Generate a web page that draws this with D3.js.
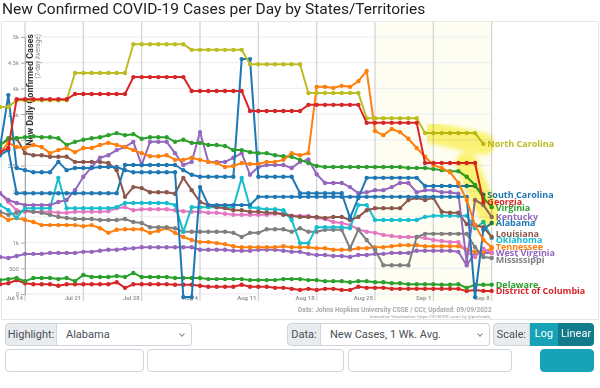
<!DOCTYPE html>
<html>
<head>
<meta charset="utf-8">
<script src="https://cdn.jsdelivr.net/npm/d3@7"></script>
<style>
  html, body { margin: 0; padding: 0; background: #fff; }
  body { width: 600px; height: 388px; overflow: hidden; position: relative;
         font-family: Roboto, "Helvetica Neue", Arial, sans-serif; }
  #title { position: absolute; left: 2px; top: 0px; font-size: 15.5px; color: #222; white-space: nowrap; }
  #panel { position: absolute; left: 1px; top: 21px; width: 596px; height: 297px;
           border: 1px solid #e6e6e6; background: #fff; }
  #chart { position: absolute; left: 0; top: 0; }
  .axis text { font-size: 6px; fill: #888; font-family: Roboto, Arial, sans-serif; }
  .axis .domain { stroke: #aaa; }
  .axis line { stroke: #aaa; }
  .end-label { font-size: 9px; font-weight: bold; font-family: "Open Sans", Arial, sans-serif; }
  .grp { position: absolute; display: flex; height: 23px; font-size: 11px; color: #495057; box-sizing: border-box; }
  .grp > div { box-sizing: border-box; height: 23px; line-height: 21px; white-space: nowrap; }
  .lab { background: #e9ecef; border: 1px solid #ced4da; border-radius: 4px 0 0 4px; text-align: center; }
  .sel { background: #fff; border: 1px solid #ced4da; border-left: none; border-radius: 0 4px 4px 0;
         padding: 0 0 0 9px; position: relative; }
  .sel::after { content: ""; position: absolute; right: 7px; top: 8px; width: 3px; height: 3px;
                border-right: 1px solid #888; border-bottom: 1px solid #888; transform: rotate(45deg); }
  .btn { color: #fff; text-align: center; }
  .row2 { position: absolute; top: 349px; height: 23px; border: 1px solid #ced4da; border-radius: 4px;
          background: #fff; box-sizing: border-box; }
</style>
</head>
<body>
<div id="title">New Confirmed COVID-19 Cases per Day by States/Territories</div>
<div id="panel"></div>
<svg id="chart" width="600" height="388"></svg>

<div class="grp" style="left:5px; top:323px;">
  <div class="lab" style="width:52px;">Highlight:</div><div class="sel" style="width:135px;">Alabama</div>
</div>
<div class="grp" style="left:287px; top:323px;">
  <div class="lab" style="width:34px;">Data:</div><div class="sel" style="width:169px;">New Cases, 1 Wk. Avg.</div>
</div>
<div class="grp" style="left:493px; top:323px;">
  <div class="lab" style="width:37px;">Scale:</div>
  <div class="btn" style="width:28px; background:#17a2b8;">Log</div>
  <div class="btn" style="width:36px; background:#117a8b; border-radius:0 4px 4px 0;">Linear</div>
</div>
<div class="row2" style="left:5px; width:139px;"></div>
<div class="row2" style="left:147px; width:197px;"></div>
<div class="row2" style="left:348px; width:164px;"></div>
<div class="row2" style="left:540px; width:54px; background:#17a2b8; border-color:#17a2b8;"></div>

<script>
// ---- data: 7-day average new cases, one value per day from Jul 11 to Sep 8, 2022 ----
const START = new Date(2022, 6, 11);
const DATES = d3.range(60).map(i => d3.timeDay.offset(START, i));

const X_TICKS = ["2022-07-14", "2022-07-21", "2022-07-28", "2022-08-04", "2022-08-11",
                 "2022-08-18", "2022-08-25", "2022-09-01", "2022-09-08"].map(d3.timeParse("%Y-%m-%d"));
const Y_TICKS = [0, 500, 1000, 1500, 2000, 2500, 3000, 3500, 4000, 4500, 5000];

const NORTH_CAROLINA = [3640, 3640, 3770, 3770, 3770, 3770, 3770, 3770, 3770, 4300,
  4300, 4300, 4300, 4300, 4300, 4300, 4860, 4860, 4860, 4860,
  4860, 4860, 4860, 4750, 4750, 4750, 4750, 4750, 4750, 4750,
  4470, 4470, 4470, 4470, 4470, 4470, 4470, 3910, 3910, 3910,
  3910, 3910, 3910, 3910, 3420, 3420, 3420, 3420, 3420, 3420,
  3420, 3130, 3130, 3130, 3130, 3130, 3130, 3130, 2920, null];

const GEORGIA = [2760, 2840, 3790, 3790, 3790, 3790, 3790, 3790, 3790, 3890,
  3890, 3890, 3890, 3890, 3890, 3890, 4220, 4220, 4220, 4220,
  4220, 4220, 4220, 3950, 3950, 3950, 3950, 3950, 3950, 3950,
  3560, 3560, 3560, 3560, 3560, 3560, 3560, 3680, 3680, 3680,
  3680, 3680, 3680, 3680, 3330, 3330, 3330, 3330, 3330, 3330,
  3330, 2550, 2550, 2550, 2550, 2550, 2550, 2550, 1790, null];

const TENNESSEE = [2760, 2940, 2860, 2840, 2900, 2860, 2740, 2800, 2840, 2760,
  2840, 2840, 2900, 2940, 2900, 2860, 2800, 2740, 2680, 2680,
  2700, 2610, 2610, 2650, 2610, 2570, 2550, 2470, 2490, 2550,
  2530, 2530, 2570, 2570, 2610, 2740, 2700, 2740, 4030, 4030,
  4010, 4050, 4030, 4140, 4340, 3170, 3090, 3210, 3150, 3020,
  2840, 2670, 2510, 2450, 2370, 2160, 1830, 1340, 1050, 910];

const ORANGE_LOW = [1540, 1440, 1480, 1440, 1400, 1340, 1340, 1340, 1340, 1340,
  1320, 1340, 1280, 1190, 1250, 1260, 1260, 1260, 1190, 1230,
  1280, 1190, 1110, 1050, 1010, 1010, 990, 970, 930, 910,
  910, 910, 910, 910, 930, 910, 910, 910, 890, 890,
  860, 860, 860, 890, 890, 910, 910, 930, 950, 950,
  950, 930, 930, 930, 930, 930, 860, 820, 820, 880];

const VIRGINIA = [2900, 3030, 3030, 3050, 3070, 3050, 3050, 3030, 2900, 2960,
  3000, 3030, 3050, 3090, 3130, 3090, 3110, 3020, 3050, 3050,
  3050, 2960, 3000, 2940, 2940, 2900, 2900, 2880, 2800, 2800,
  2760, 2740, 2740, 2700, 2680, 2670, 2610, 2550, 2490, 2470,
  2470, 2470, 2470, 2470, 2470, 2470, 2470, 2470, 2470, 2450,
  2450, 2450, 2430, 2410, 2390, 2390, 2280, 2120, 1870, 1690];

const DELAWARE = [270, 290, 310, 250, 310, 310, 310, 290, 310, 250,
  370, 330, 330, 330, 350, 330, 410, 330, 330, 330,
  330, 310, 310, 310, 310, 290, 290, 290, 290, 290,
  270, 270, 270, 270, 290, 290, 290, 270, 270, 250,
  250, 250, 230, 250, 250, 230, 230, 210, 210, 190,
  190, 190, 190, 180, 180, 190, 120, 180, 180, 180];

const DISTRICT_OF_COLUMBIA = [190, 210, 270, 210, 190, 190, 190, 160, 190, 190,
  190, 190, 190, 190, 230, 120, 190, 190, 190, 190,
  190, 180, 180, 180, 160, 140, 140, 140, 140, 180,
  140, 140, 140, 120, 120, 100, 80, 100, 80, 100,
  100, 80, 80, 140, 120, 120, 120, 100, 100, 100,
  100, 100, 100, 100, 100, 100, 60, 80, 60, 60];

const KENTUCKY = [1960, 1830, 1770, 1730, 1730, 1730, 1730, 1790, 1830, 2020,
  2280, 2470, 2650, 2700, 2800, 2860, 2960, 2510, 2960, 2960,
  2960, 2740, 2510, 2570, 3150, 2570, 2570, 2570, 2650, 2740,
  2320, 2470, 2510, 2510, 2510, 2450, 2570, 2620, 2330, 2160,
  2160, 2160, 2080, 1960, 1980, 2020, 2020, 2080, 2160, 2160,
  1980, 2020, 2020, 1980, 1980, 1950, 620, 1830, 1730, 1500];

const WEST_VIRGINIA = [720, 700, 740, 780, 780, 780, 800, 800, 800, 800,
  820, 820, 840, 860, 860, 880, 890, 910, 910, 910,
  910, 910, 910, 910, 860, 860, 860, 860, 840, 840,
  840, 860, 860, 860, 840, 820, 820, 780, 760, 760,
  740, 740, 720, 760, 760, 780, 780, 800, 800, 800,
  840, 840, 840, 840, 840, 820, 560, 800, 800, 800];

const PINK_SERIES = [1960, 1790, 1630, 1600, 1600, 1600, 1600, 1580, 1580, 1600,
  1600, 1600, 1600, 1610, 1670, 1690, 1630, 1650, 1650, 1650,
  1650, 1630, 1610, 1600, 1600, 1580, 1580, 1560, 1540, 1540,
  1540, 1540, 1540, 1560, 1580, 1520, 1520, 1520, 1480, 1460,
  1400, 1380, 1340, 1260, 1210, 1190, 1150, 1130, 1110, 1110,
  1110, 1090, 1050, 1030, 1010, 1010, 820, 720, 880, 800];

const MISSISSIPPI = [1600, 1540, 1580, 1630, 1600, 1580, 1540, 1500, 1480, 1460,
  1460, 1460, 1440, 1440, 1440, 1460, 1400, 1380, 1300, 1300,
  1300, 1280, 1210, 1210, 1210, 1210, 1210, 1210, 1190, 1110,
  1190, 1190, 1260, 1260, 1260, 1210, 1280, 1210, 1210, 1250,
  1250, 1250, 890, 1250, 1050, 860, 560, 560, 560, 560,
  1110, 1170, 1170, 1170, 1170, 1170, 1170, 910, 720, 700];

const OKLAHOMA = [1730, 1630, 1480, 1670, 1670, 1670, 1670, 2260, 1670, 1670,
  1670, 1670, 1670, 1670, 1690, 1770, 1770, 1770, 1770, 1770,
  1770, 1730, 1210, 1690, 1690, 1690, 1690, 1690, 1690, 2260,
  1690, 1670, 1650, 1650, 1630, 1440, 990, 990, 1300, 1300,
  1300, 1300, 1280, 1730, 1730, 1440, 1440, 1440, 1440, 1440,
  1440, 1500, 1520, 1520, 1520, 1520, 1520, 1280, 1400, 1090];

const LOUISIANA = [2900, 3000, 3030, 2740, 2700, 2700, 2670, 2670, 2670, 2570,
  2570, 2570, 2570, 2550, 2410, 1890, 2080, 2060, 1980, 1980,
  1980, 1950, 2260, 2020, 1790, 1730, 1690, 1670, 1630, 1630,
  1600, 1600, 1580, 1580, 1540, 1520, 1500, 1500, 1500, 1480,
  1500, 1500, 1440, 1500, 1630, 1670, 1670, 1670, 1670, 1830,
  1870, 1830, 1870, 1600, 1580, 1580, 1360, 1340, 1300, 1110];

const SOUTH_CAROLINA = [2700, 2800, 1960, 1960, 1960, 1960, 1960, 1960, 1960, 1960,
  1960, 1960, 1960, 1960, 1960, 2510, 2510, 2510, 2510, 2510,
  2510, 2510, 2410, 2320, 2280, 2280, 2280, 2280, 2280, 4570,
  4570, 2280, 2280, 2280, 2280, 2280, 1960, 1960, 1960, 1960,
  1960, 1960, 1480, 1870, 2260, 2260, 2260, 2260, 2260, 2260,
  2260, 2100, 2100, 2100, 2100, 2100, 2100, 2100, 1930, null];

const ALABAMA = [2840, 3870, 2450, 2410, 2370, 2370, 2370, 2570, 2410, 2450,
  2450, 2450, 2470, 2470, 2470, 2410, 2370, 2370, 2370, 2370,
  2370, 2370, -60, -60, 2080, 1730, 1730, 1730, 1730, 1730,
  1730, 1890, 1890, 1890, 1890, 1890, 1890, 1890, 1890, 1890,
  1890, 1890, 1890, 1890, 1890, 1890, 1890, 1890, 1890, 1890,
  1890, 1890, 1890, 1890, 1890, 1890, 1890, -60, 1250, 1380];

// draw order: first entry at the bottom
const SERIES = [
  { name: "District of Columbia", color: "#d62728", values: DISTRICT_OF_COLUMBIA, label: true },
  { name: "Delaware",             color: "#2ca02c", values: DELAWARE,             label: true },
  { name: "West Virginia",        color: "#9467bd", values: WEST_VIRGINIA,        label: true },
  { name: "",                     color: "#ff7f0e", values: ORANGE_LOW,           label: false },
  { name: "",                     color: "#e377c2", values: PINK_SERIES,          label: false },
  { name: "Mississippi",          color: "#7f7f7f", values: MISSISSIPPI,          label: true },
  { name: "Oklahoma",             color: "#17becf", values: OKLAHOMA,             label: true },
  { name: "Louisiana",            color: "#8c564b", values: LOUISIANA,            label: true },
  { name: "Kentucky",             color: "#9467bd", values: KENTUCKY,             label: true },
  { name: "Alabama",              color: "#1f77b4", values: ALABAMA,              label: true },
  { name: "South Carolina",       color: "#1f77b4", values: SOUTH_CAROLINA,       label: true },
  { name: "Virginia",             color: "#2ca02c", values: VIRGINIA,             label: true },
  { name: "Tennessee",            color: "#ff7f0e", values: TENNESSEE,            label: true },
  { name: "North Carolina",       color: "#bcbd22", values: NORTH_CAROLINA,       label: true },
  { name: "Georgia",              color: "#d62728", values: GEORGIA,              label: true },
];

// hand-drawn highlighter strokes, anchored on data points: [series, day index]
const HIGHLIGHTS = [
  [["North Carolina", 52], ["North Carolina", 58]],
  [["Georgia", 56], ["Georgia", 58], ["Kentucky", 59]],
];
const SHADED_FROM = new Date(2022, 7, 25);

const SOURCE = "Data: Johns Hopkins University CSSE / CCI; Updated: 09/09/2022";
const CREDIT = "Interactive Visualization: https://91-DIVOC.com/ by @profwade_";

// ---- chart ----
const svg = d3.select("#chart");
const x = d3.scaleTime().domain([DATES[0], DATES[DATES.length - 1]]).range([0, 491.7]);
const y = d3.scaleLinear().domain([0, 5000]).range([294, 37]);
const PLOT_TOP = 22, PLOT_BOTTOM = 301;

const defs = svg.append("defs");
defs.append("filter").attr("id", "soft")
  .append("feGaussianBlur").attr("stdDeviation", 2.2);

// shaded recent-weeks band
svg.append("rect")
  .attr("x", x(SHADED_FROM)).attr("y", PLOT_TOP)
  .attr("width", x(DATES[DATES.length - 1]) - x(SHADED_FROM)).attr("height", PLOT_BOTTOM - PLOT_TOP)
  .attr("fill", "#fdfdf2");

// horizontal grid
svg.append("g").selectAll("line").data(Y_TICKS).join("line")
  .attr("x1", x(X_TICKS[0])).attr("x2", x(X_TICKS[X_TICKS.length - 1]))
  .attr("y1", d => y(d)).attr("y2", d => y(d))
  .attr("stroke", "#ececf2").attr("stroke-width", 1);

// vertical grid (weekly)
svg.append("g").selectAll("line").data(X_TICKS).join("line")
  .attr("x1", d => x(d)).attr("x2", d => x(d))
  .attr("y1", PLOT_TOP).attr("y2", PLOT_BOTTOM)
  .attr("stroke", "#d2d2d6").attr("stroke-width", 1.2);

// y axis
const fmtY = v => v === 0 ? "0" : v < 1000 ? String(v) : (v / 1000) + "k";
svg.append("g").attr("class", "axis")
  .attr("transform", `translate(${x(X_TICKS[0])},0)`)
  .call(d3.axisLeft(y).tickValues(Y_TICKS).tickFormat(fmtY).tickSize(4).tickPadding(2));

// x axis labels (sit just left of each weekly line)
svg.append("g").attr("class", "axis").selectAll("text").data(X_TICKS).join("text")
  .attr("x", d => x(d) - 2).attr("y", 300)
  .attr("text-anchor", "end").style("font-weight", "bold").style("fill", "#9a9a9a")
  .text(d3.timeFormat("%b %-d"));

// y axis title
const yt = svg.append("text").attr("transform", `translate(32.5,34) rotate(-90)`)
  .attr("text-anchor", "end");
yt.append("tspan").attr("x", 0).attr("y", 0)
  .style("font-size", "9px").style("font-weight", "bold").style("fill", "#333")
  .text("New Daily Confirmed Cases");
yt.append("tspan").attr("x", 0).attr("y", 7)
  .style("font-size", "6.4px").style("fill", "#888")
  .text("(7-day Average)");

// lines + dots
const line = d3.line()
  .defined(v => v != null)
  .x((v, i) => x(DATES[i]))
  .y(v => y(v));

const gLines = svg.append("g");
SERIES.forEach(s => {
  const g = gLines.append("g");
  g.append("path").datum(s.values)
    .attr("d", line).attr("fill", "none")
    .attr("stroke", s.color).attr("stroke-width", 2).attr("stroke-linejoin", "round");
  g.selectAll("circle").data(s.values.map((v, i) => ({ v, i })).filter(d => d.v != null))
    .join("circle")
    .attr("cx", d => x(DATES[d.i])).attr("cy", d => y(d.v)).attr("r", 2.2)
    .attr("fill", s.color);
});

// end labels, spread apart so they don't collide
const labels = SERIES.filter(s => s.label).map(s => {
  let last = s.values.length - 1;
  while (s.values[last] == null) last--;
  return { s, lx: x(DATES[last]) + 4, ly: y(s.values[last]) };
}).sort((a, b) => a.ly - b.ly);
const GAP = 6.4;
for (let it = 0; it < 200; it++) {
  for (let i = 1; i < labels.length; i++) {
    const over = labels[i - 1].ly + GAP - labels[i].ly;
    if (over > 0) { labels[i - 1].ly -= over / 2; labels[i].ly += over / 2; }
  }
}
svg.append("g").selectAll("text").data(labels).join("text")
  .attr("class", "end-label")
  .attr("x", d => d.lx).attr("y", d => d.ly).attr("dy", "0.35em")
  .attr("fill", d => d.s.color)
  .text(d => d.s.name);

// highlighter marks (multiplied over everything)
const byName = new Map(SERIES.map(s => [s.name, s]));
const hl = d3.line().curve(d3.curveCatmullRom)
  .x(([n, i]) => x(DATES[i])).y(([n, i]) => y(byName.get(n).values[i]));
svg.append("g").style("mix-blend-mode", "multiply").attr("filter", "url(#soft)")
  .selectAll("path").data(HIGHLIGHTS).join("path")
  .attr("d", hl).attr("fill", "none")
  .attr("stroke", "#fcf47a").attr("stroke-width", 22)
  .attr("stroke-linecap", "round").attr("stroke-linejoin", "round");

// source lines
svg.append("text").attr("x", x(X_TICKS[X_TICKS.length - 1])).attr("y", 312)
  .attr("text-anchor", "end")
  .style("font-size", "6.6px").style("font-weight", "bold").style("fill", "#aaa")
  .text(SOURCE);
svg.append("text").attr("x", x(X_TICKS[X_TICKS.length - 1])).attr("y", 318)
  .attr("text-anchor", "end")
  .style("font-size", "4.3px").style("fill", "#999")
  .text(CREDIT);
</script>
</body>
</html>
